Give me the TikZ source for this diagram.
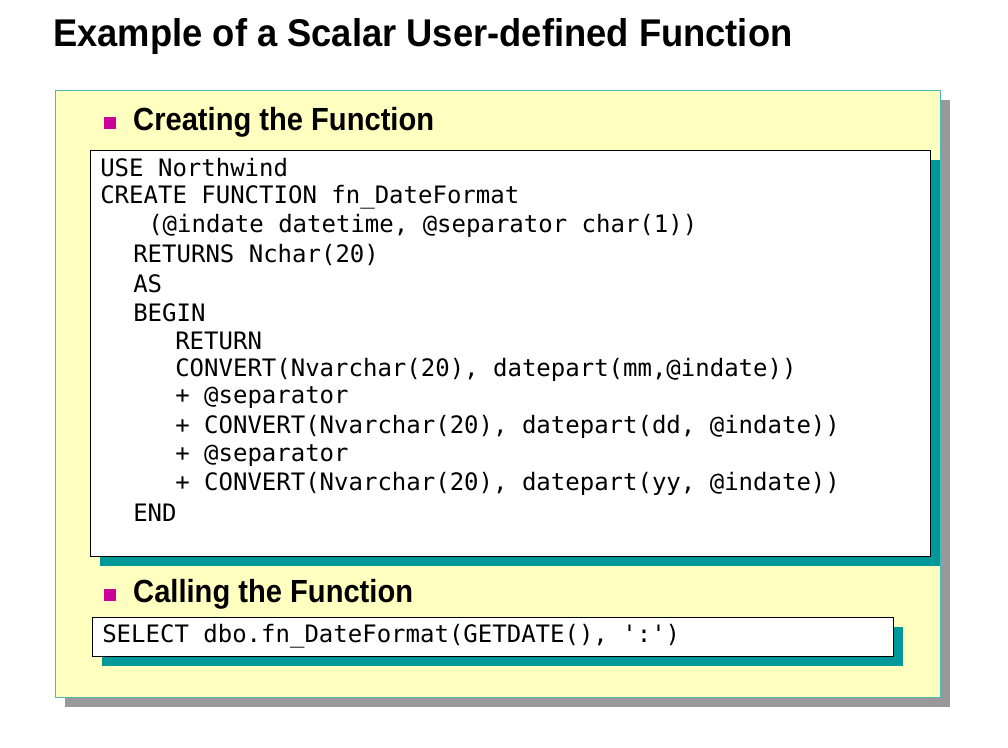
\documentclass[tikz,border=0pt]{standalone}
\usepackage{fontspec}
\setmainfont{Liberation Sans}
\newfontfamily\codefont{DejaVu Sans Mono}
\definecolor{panelYellow}{HTML}{FFFFC0}
\definecolor{panelShadow}{HTML}{999999}
\definecolor{codeShadow}{HTML}{009999}
\definecolor{bulletPink}{HTML}{CC0099}
\tikzset{
  codeline/.style={anchor=west, inner sep=0pt, font=\codefont\fontsize{18}{20}\selectfont},
  heading/.style={anchor=west, inner sep=0pt, font=\bfseries\fontsize{24}{28}\selectfont, xscale=0.91},
  bullet/.style={fill=bulletPink, minimum size=9pt, inner sep=0pt},
}
\begin{document}
\begin{tikzpicture}[x=0.75pt, y=-0.75pt]
\useasboundingbox (0,0) rectangle (1008,748);
% ---- Title
\node [anchor=west, inner sep=0pt, font=\bfseries\fontsize{29}{34}\selectfont, xscale=0.94] (title) at (53,37) {Example of a Scalar User-defined Function};
% ---- Panel
\fill [panelShadow] (65,100) rectangle (950,707);
\filldraw [fill=panelYellow, draw=codeShadow!70] (55,90) rectangle (940,697);
% ---- Headings
\node [bullet] (bulletA) at (110,123) {};
\node [heading] (headA) at (133,122) {Creating the Function};
\node [bullet] (bulletB) at (110,595) {};
\node [heading] (headB) at (133,594) {Calling the Function};
% ---- Code box 1
\fill [codeShadow] (100,160) rectangle (940,566);
\filldraw [fill=white, draw=black] (90,150) rectangle (930,556);
\node [codeline] (l1) at (100,168) {USE Northwind};
\node [codeline] (l2) at (100,197) {CREATE FUNCTION fn\_DateFormat};
\node [codeline] (l3) at (148,226) {(@indate datetime, @separator char(1))};
\node [codeline] (l4) at (133,255) {RETURNS Nchar(20)};
\node [codeline] (l5) at (133,284) {AS};
\node [codeline] (l6) at (133,313) {BEGIN};
\node [codeline] (l7) at (175,341) {RETURN};
\node [codeline] (l8) at (175,370) {CONVERT(Nvarchar(20), datepart(mm,@indate))};
\node [codeline] (l9) at (175,398) {+ @separator};
\node [codeline] (l10) at (175,427) {+ CONVERT(Nvarchar(20), datepart(dd, @indate))};
\node [codeline] (l11) at (175,456) {+ @separator};
\node [codeline] (l12) at (175,484) {+ CONVERT(Nvarchar(20), datepart(yy, @indate))};
\node [codeline] (l13) at (133,513) {END};
% ---- Code box 2
\fill [codeShadow] (102,627) rectangle (903,666);
\filldraw [fill=white, draw=black] (92,617) rectangle (893,656);
\node [codeline] (call) at (102,636) {SELECT dbo.fn\_DateFormat(GETDATE(), ':')};
\end{tikzpicture}
\end{document}
